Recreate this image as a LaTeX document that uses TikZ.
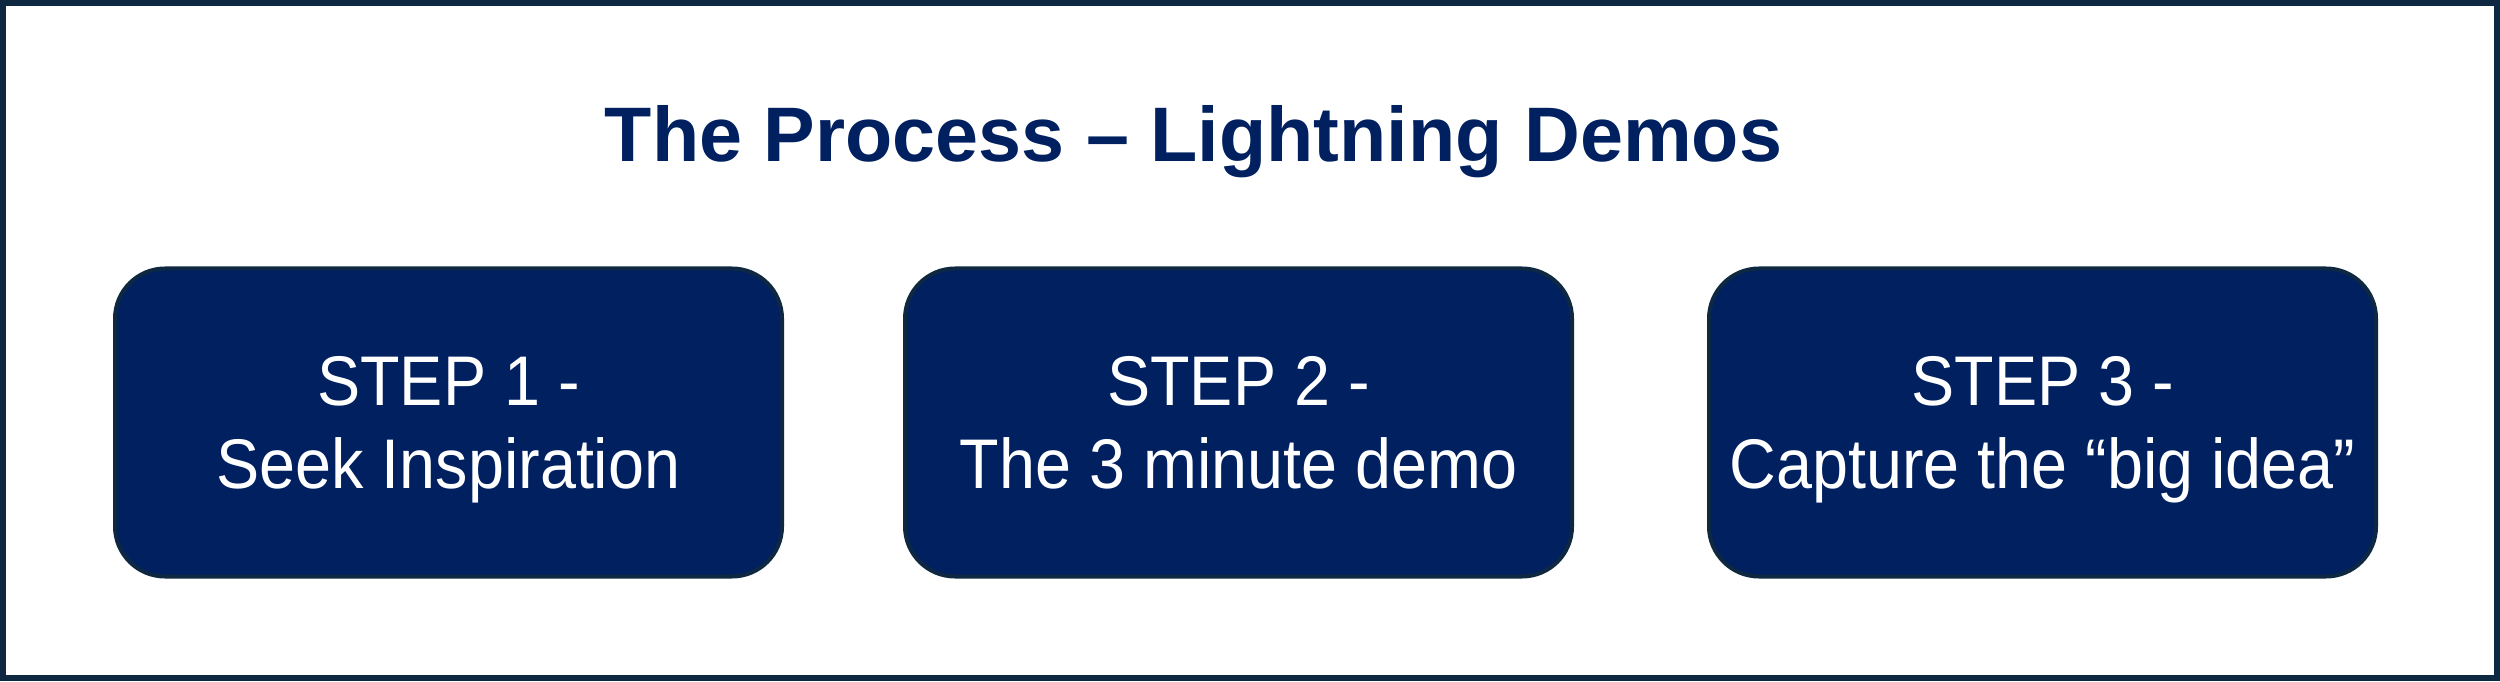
\documentclass[tikz,border=0pt]{standalone}
\usepackage{fontspec}
\setmainfont{Liberation Sans}
\newfontfamily\stepfont[FakeStretch=0.92]{Liberation Sans}
\usepackage{xcolor}
\usepackage{tikz}
\usetikzlibrary{positioning}
\definecolor{navyfill}{HTML}{002060}
\definecolor{navyline}{HTML}{0E2841}
\newcommand{\topgap}{\rule{0pt}{21pt}}
\tikzset{
    stepbox/.style={
        draw = navyline, line width = 0.04cm,
        fill = navyfill, text = white,
        rounded corners = 0.5cm,
        minimum width = 6.67cm,
        minimum height = 3.08cm,
        align = center,
        font = \stepfont\fontsize{20}{23.6}\selectfont
    },
    heading/.style = {text = navyfill, font = \bfseries\fontsize{22}{26}\selectfont}
}
\begin{document}
\begin{tikzpicture}

    \useasboundingbox (0,0) rectangle (25,6.81);
    \draw[navyline, line width = 0.06cm] (0.03,0.03) rectangle (24.97,6.78);

    \node[heading, anchor = base] (title) at (11.935,5.19) {The Process – Lightning Demos};

    \node[stepbox] (step1) at (4.485,2.585) {\topgap STEP 1 -\\\strut Seek Inspiration};
    \node[stepbox, right = 1.19 of step1] (step2) {\topgap STEP 2 -\\\strut The 3 minute demo};
    \node[stepbox, right = 1.33 of step2] (step3) {\topgap STEP 3 -\\\strut Capture the “big idea”};

\end{tikzpicture}
\end{document}
